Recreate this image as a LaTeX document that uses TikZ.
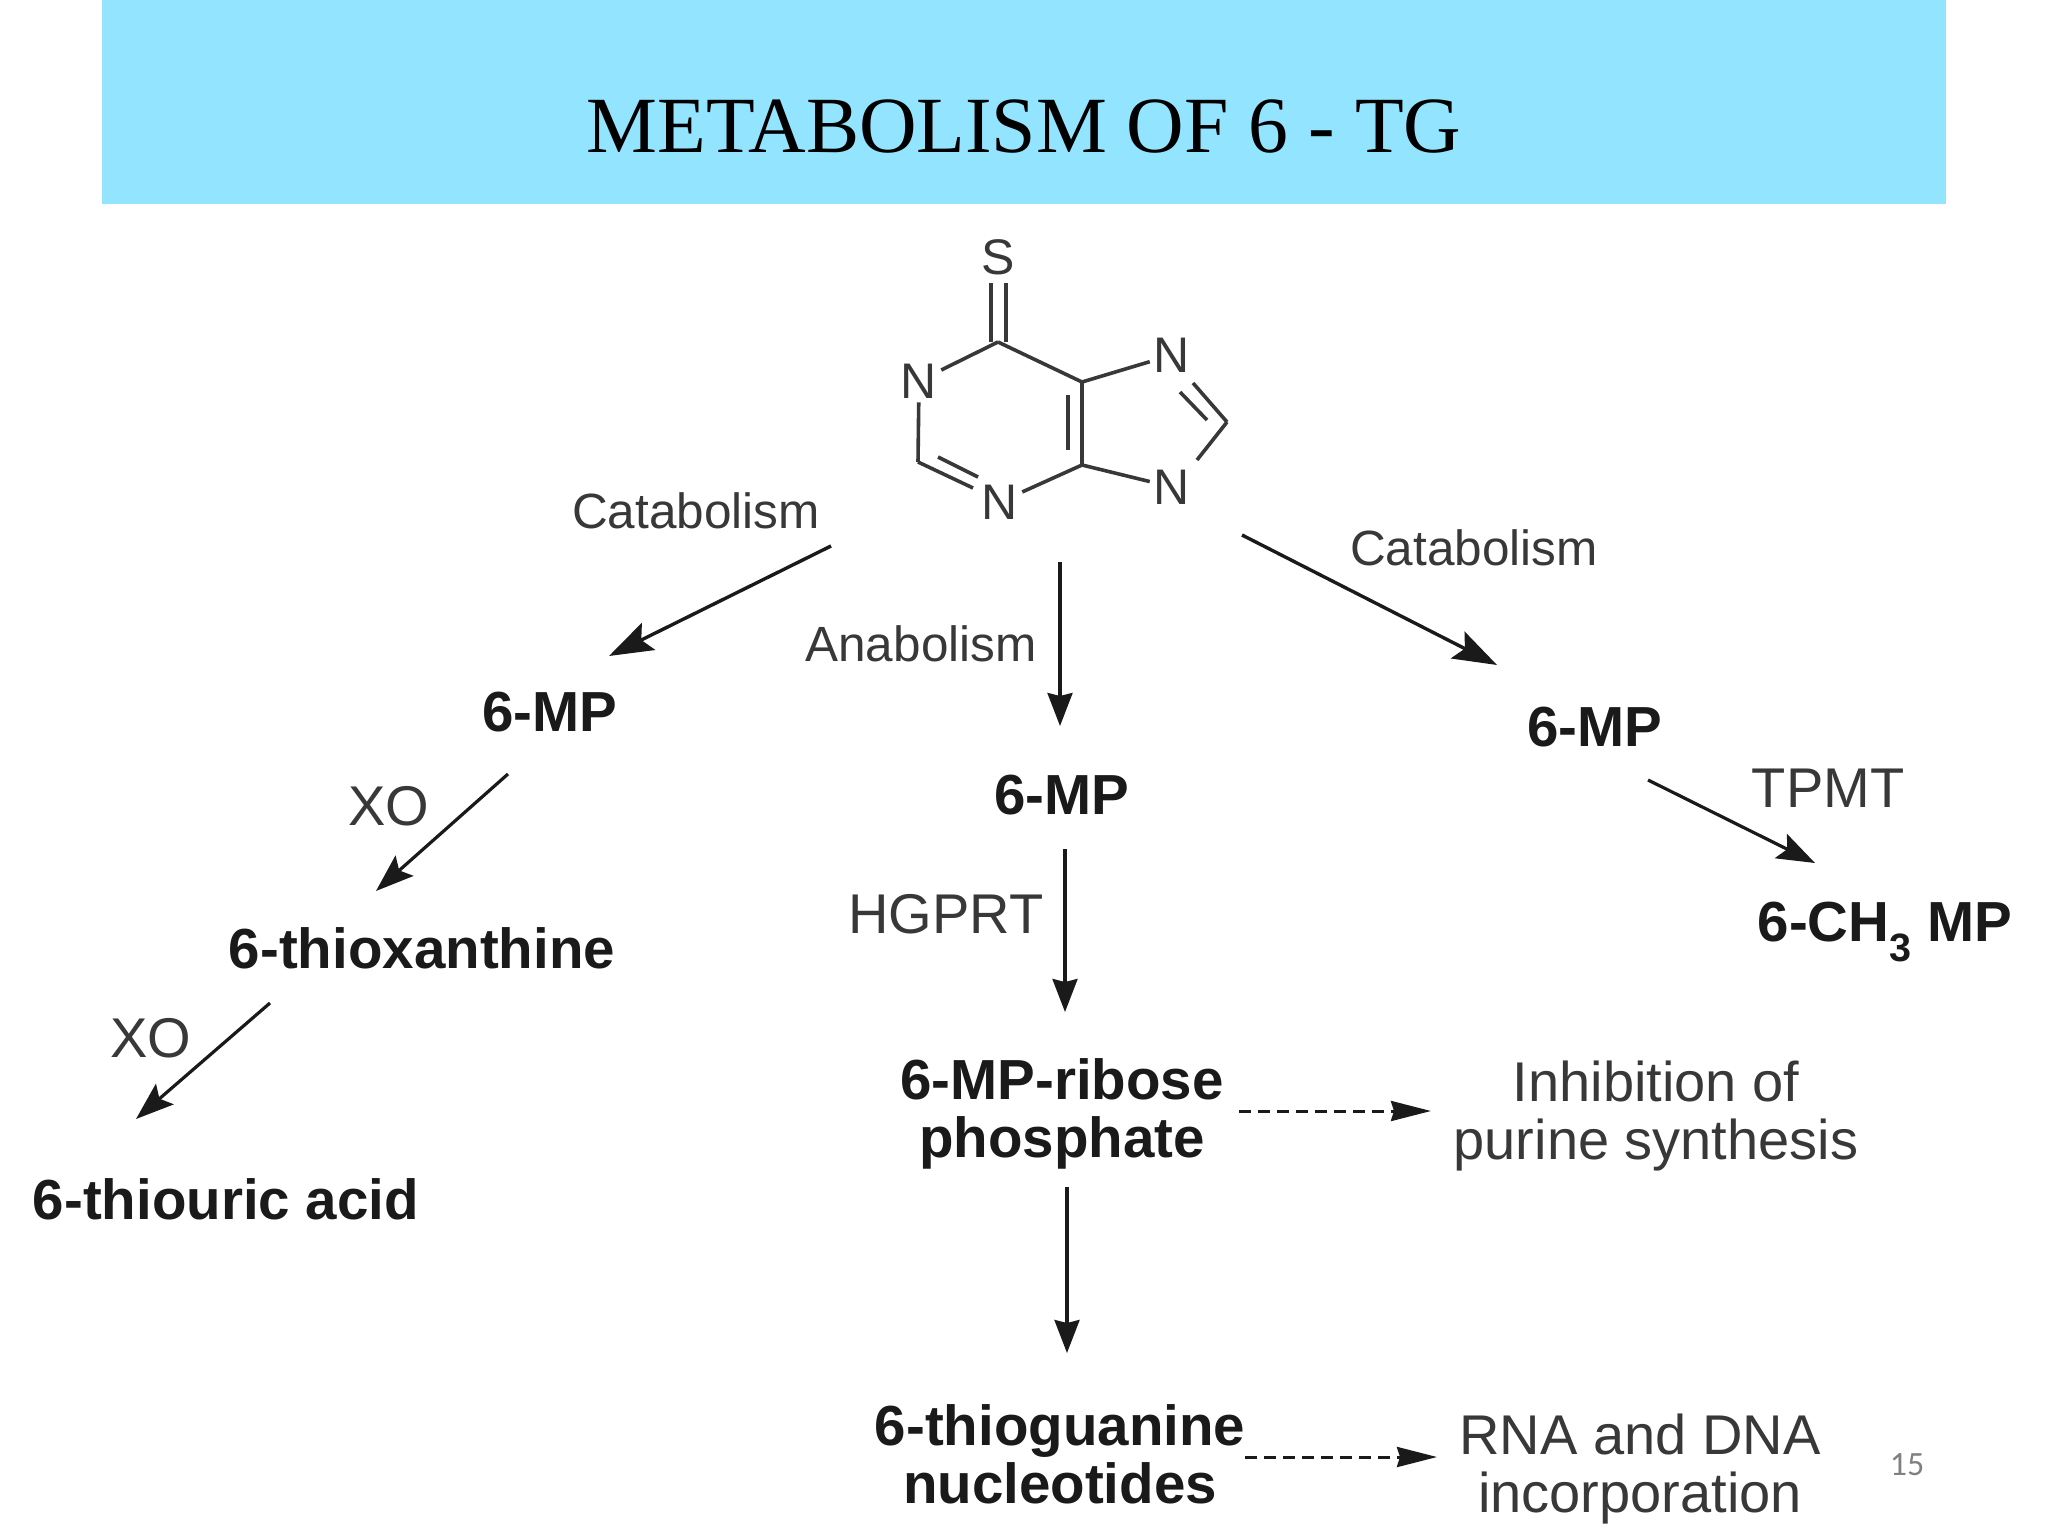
\documentclass[tikz,border=0pt]{standalone}
\usepackage{fontspec}
\setmainfont{Liberation Serif}
\newfontfamily\diagfont{Liberation Sans}
\newfontfamily\numfont{Carlito}
\usetikzlibrary{arrows.meta,calc}
\definecolor{band}{HTML}{93E4FF}
\definecolor{inkdark}{HTML}{1A1A1A}
\definecolor{inkreg}{HTML}{383838}
\tikzset{
  boldlabel/.style={inner sep=0pt,align=center,text=inkdark,font=\diagfont\bfseries\fontsize{56.5}{58}\selectfont},
  reglabel/.style={inner sep=0pt,align=center,text=inkreg,font=\diagfont\fontsize{56}{58}\selectfont},
  smalllabel/.style={inner sep=0pt,align=center,text=inkreg,font=\diagfont\fontsize{49.5}{56}\selectfont},
  atom/.style={inner sep=4pt,text=inkreg,font=\diagfont\fontsize{50}{50}\selectfont},
  bond/.style={line width=3.6pt,draw=inkreg},
  arr/.style={line width=3.4pt,draw=inkdark,-{Stealth[length=44pt,width=30pt,inset=8pt]}},
  xoarr/.style={line width=3.2pt,draw=inkdark,-{Stealth[length=38pt,width=27pt,inset=7pt]}},
  thinarr/.style={line width=3.2pt,draw=inkdark,-{Stealth[length=33pt,width=25pt,inset=3pt]}},
  dasharr/.style={line width=3pt,draw=inkdark,dash pattern=on 12pt off 7pt,-{Stealth[length=40pt,width=20pt,inset=3pt]}},
}
\begin{document}
\begin{tikzpicture}[x=1pt,y=-1pt]
\useasboundingbox (0,0) rectangle (2048,1536);
\fill[white] (0,0) rectangle (2048,1536);
\fill[band] (102,0) rectangle (1946,204);
\node[inner sep=0pt,font=\fontsize{79.7}{80}\selectfont] (title) at (1024,127) {METABOLISM OF 6 - TG};

% molecule
\node[atom] (S) at (998,257) {S};
\node[atom] (N1) at (919,381) {N};
\node[atom] (N3) at (1000,502) {N};
\node[atom] (N7) at (1172,355) {N};
\node[atom] (N9) at (1172,487) {N};
\coordinate (C6) at (998,342);
\coordinate (C5) at (1082,382);
\coordinate (C4) at (1082,465);
\coordinate (C2) at (918,462);
\coordinate (C8) at (1227,422);
\draw[bond] ([xshift=-7pt]C6) -- ([shift={(-7,26)}]S.center);
\draw[bond] ([xshift=8pt]C6) -- ([shift={(8,26)}]S.center);
\draw[bond] (C6) -- (N1);
\draw[bond] (N1) -- (C2);
\draw[bond] (C2) -- ([shift={(-27,-14)}]N3.center);
\draw[bond] ([shift={(20,-5)}]C2) -- ([shift={(-22,-25)}]N3.center);
\draw[bond] (N3) -- (C4);
\draw[bond] (C6) -- (C5);
\draw[bond] (C5) -- (C4);
\draw[bond] ([shift={(-14,13)}]C5) -- ([shift={(-14,-15)}]C4);
\draw[bond] (C5) -- (N7);
\draw[bond] (C4) -- (N9);
\draw[bond] ([shift={(21,28)}]N7.center) -- (C8);
\draw[bond] ([shift={(8,37)}]N7.center) -- ([shift={(-20,-2)}]C8);
\draw[bond] (C8) -- ([shift={(25,-27)}]N9.center);
\coordinate (molSW) at (831,546);
\coordinate (molS) at (1060,562);
\coordinate (molSE) at (1242,535);

% labels
\node[boldlabel] (mpL) at (550,712) {6-MP};
\node[boldlabel] (mpM) at (1062,795) {6-MP};
\node[boldlabel] (mpR) at (1595,727) {6-MP};
\node[boldlabel] (thiox) at (422,948) {6-thioxanthine};
\node[boldlabel] (thiou) at (226,1199) {6-thiouric acid};
\node[boldlabel] (ch3) at (1885,932) {6-CH\textsubscript{3} MP};
\node[boldlabel] (ribose) at (1062,1114) {6-MP-ribose\\phosphate};
\node[boldlabel] (nucleo) at (1060,1454) {6-thioguanine\\nucleotides};
\node[reglabel] (inhib) at (1656,1116) {Inhibition of\\purine synthesis};
\node[reglabel] (rna) at (1640,1469) {RNA and DNA\\incorporation};
\node[smalllabel] (catL) at (696,511) {Catabolism};
\node[smalllabel] (catR) at (1474,548) {Catabolism};
\node[smalllabel] (ana) at (921,644) {Anabolism};
\node[reglabel] (xoA) at (389,806) {XO};
\node[reglabel] (xoB) at (151,1038) {XO};
\node[reglabel] (tpmt) at (1828,788) {TPMT};
\node[reglabel] (hgprt) at (946,914) {HGPRT};
\node[inner sep=0pt,text=black!50,font=\numfont\fontsize{34}{34}\selectfont] (page) at (1907,1465) {15};

% arrows
\draw[arr] (molSW) -- ([shift={(59,-56)}]mpL.center);
\draw[thinarr] (molS) -- ([shift={(-2,-69)}]mpM.center);
\draw[arr] (molSE) -- ([shift={(-98,-62)}]mpR.center);
\draw[xoarr] ([shift={(-42,62)}]mpL.center) -- ([shift={(-46,-57)}]thiox.center);
\draw[xoarr] ([shift={(-152,55)}]thiox.center) -- ([shift={(-90,-80)}]thiou.center);
\draw[xoarr] ([shift={(53,53)}]mpR.center) -- ([shift={(-70,-69)}]ch3.center);
\draw[thinarr] ([shift={(3,54)}]mpM.center) -- ([shift={(3,-102)}]ribose.center);
\draw[thinarr] ([shift={(5,73)}]ribose.center) -- ([shift={(7,-101)}]nucleo.center);
\draw[dasharr] ([shift={(177,-3)}]ribose.center) -- ([shift={(-225,-5)}]inhib.center);
\draw[dasharr] ([shift={(185,3)}]nucleo.center) -- ([shift={(-203,-12)}]rna.center);
\end{tikzpicture}
\end{document}
